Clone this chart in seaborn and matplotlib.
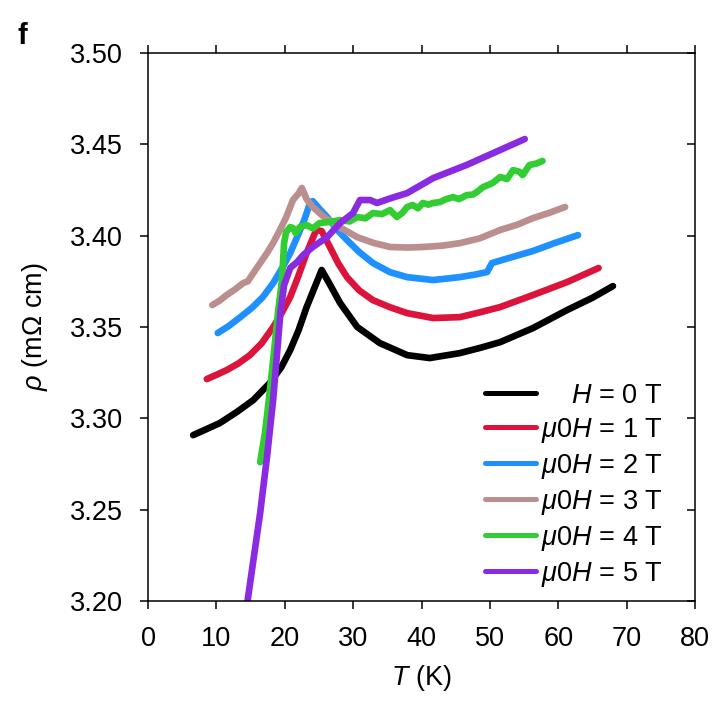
import matplotlib
matplotlib.use("Agg")
import matplotlib.pyplot as plt
import seaborn as sns
import pandas as pd
from matplotlib.lines import Line2D

# ---- data ----
T_0 = [6.6, 8.5, 10.5, 13.0, 15.4, 17.8, 19.5, 20.8, 22.0, 23.2, 24.4, 25.4, 26.5, 28.1,
       30.6, 33.9, 37.9, 41.2, 45.6, 48.5, 51.5, 56.3, 61.3, 65.0, 68.0]
R_0 = [3.2908, 3.2940, 3.2974, 3.3035, 3.3100, 3.3193, 3.3280, 3.3374, 3.3480, 3.3609,
       3.3720, 3.3812, 3.3740, 3.3631, 3.3500, 3.3412, 3.3346, 3.3330, 3.3357, 3.3385,
       3.3417, 3.3494, 3.3593, 3.3660, 3.3724]

T_1 = [8.6, 10.0, 11.5, 13.2, 14.9, 16.6, 18.3, 19.6, 20.8, 22.0, 23.2, 24.6, 25.4, 26.6,
       27.8, 29.1, 30.9, 32.9, 35.4, 37.9, 41.7, 45.6, 48.5, 51.5, 56.3, 61.3, 65.9]
R_1 = [3.3215, 3.3238, 3.3264, 3.3300, 3.3346, 3.3410, 3.3499, 3.3580, 3.3664, 3.3780,
       3.3905, 3.4031, 3.4025, 3.3938, 3.3850, 3.3773, 3.3700, 3.3647, 3.3608, 3.3576,
       3.3549, 3.3554, 3.3580, 3.3609, 3.3675, 3.3746, 3.3823]

T_2 = [10.2, 11.8, 13.5, 15.2, 16.8, 18.3, 19.7, 20.8, 21.8, 22.8, 23.7, 24.1, 25.0, 26.2,
       27.6, 29.1, 30.9, 32.9, 35.4, 37.9, 41.7, 45.6, 48.0, 49.6, 50.3, 53.0, 56.3, 59.5, 62.9]
R_2 = [3.3467, 3.3505, 3.3554, 3.3605, 3.3664, 3.3740, 3.3828, 3.3905, 3.3992, 3.4080,
       3.4179, 3.4189, 3.4150, 3.4102, 3.4035, 3.3976, 3.3910, 3.3850, 3.3800, 3.3773,
       3.3757, 3.3773, 3.3788, 3.3801, 3.3850, 3.3880, 3.3916, 3.3960, 3.4003]

T_3 = [9.4, 10.5, 11.5, 12.7, 13.9, 14.6, 15.4, 16.4, 17.4, 18.3, 19.3, 20.2, 21.2, 22.0,
       22.5, 23.2, 24.1, 25.5, 27.0, 28.8, 30.6, 33.0, 35.4, 38.0, 40.2, 43.0, 45.6, 48.5,
       51.5, 54.0, 56.3, 58.7, 61.0]
R_3 = [3.3620, 3.3645, 3.3675, 3.3705, 3.3740, 3.3750, 3.3795, 3.3850, 3.3905, 3.3960,
       3.4031, 3.4100, 3.4195, 3.4230, 3.4261, 3.4200, 3.4157, 3.4110, 3.4069, 3.4030,
       3.3992, 3.3960, 3.3938, 3.3935, 3.3938, 3.3945, 3.3959, 3.3985, 3.4031, 3.4060,
       3.4096, 3.4125, 3.4157]

T_4 = [16.4, 17.1, 17.5, 18.1, 18.6, 19.0, 19.6, 19.9, 20.2, 20.8, 21.2, 21.6, 22.2, 23.2,
       24.1, 25.1, 26.5, 28.1, 29.5, 30.6, 31.8, 32.9, 34.2, 35.4, 36.4, 37.2, 37.9, 38.7,
       39.5, 40.2, 41.0, 41.7, 42.7, 43.6, 44.6, 45.5, 46.6, 47.5, 48.1, 49.0, 50.4, 51.5,
       52.5, 53.4, 54.3, 54.8, 55.8, 56.8, 57.7]
R_4 = [3.2760, 3.2919, 3.3045, 3.3248, 3.3428, 3.3576, 3.3757, 3.3959, 3.4020, 3.4047,
       3.4042, 3.4014, 3.4047, 3.4058, 3.4040, 3.4069, 3.4075, 3.4085, 3.4078, 3.4102,
       3.4095, 3.4124, 3.4118, 3.4140, 3.4102, 3.4125, 3.4157, 3.4168, 3.4150, 3.4179,
       3.4170, 3.4179, 3.4184, 3.4200, 3.4211, 3.4200, 3.4222, 3.4225, 3.4239, 3.4266,
       3.4288, 3.4321, 3.4310, 3.4359, 3.4350, 3.4332, 3.4387, 3.4395, 3.4409]

T_5 = [14.5, 16.4, 17.4, 18.3, 19.0, 19.4, 19.9, 20.8, 21.8, 22.7, 24.1, 26.2, 28.1, 30.0,
       30.5, 31.0, 32.5, 33.5, 35.5, 37.9, 41.7, 46.6, 51.5, 55.1]
R_5 = [3.1985, 3.2481, 3.2788, 3.3100, 3.3412, 3.3593, 3.3729, 3.3823, 3.3855, 3.3894,
       3.3938, 3.3992, 3.4069, 3.4124, 3.4160, 3.4195, 3.4195, 3.4179, 3.4205, 3.4233,
       3.4315, 3.4387, 3.4469, 3.4529]

fields = ["0", "1", "2", "3", "4", "5"]
colors = ["#000000", "#DC143C", "#1E90FF", "#BC8F8F", "#32CD32", "#8A2BE2"]
labels = [r"$\mathit{H}$ = 0 T",
          r"$\mathit{\mu0H}$ = 1 T",
          r"$\mathit{\mu0H}$ = 2 T",
          r"$\mathit{\mu0H}$ = 3 T",
          r"$\mathit{\mu0H}$ = 4 T",
          r"$\mathit{\mu0H}$ = 5 T"]
x_ticks = [0, 10, 20, 30, 40, 50, 60, 70, 80]
y_ticks = [3.20, 3.25, 3.30, 3.35, 3.40, 3.45, 3.50]

series = [(T_0, R_0), (T_1, R_1), (T_2, R_2), (T_3, R_3), (T_4, R_4), (T_5, R_5)]
frames = []
for f, (t, r) in zip(fields, series):
    frames.append(pd.DataFrame({"T": t, "rho": r, "field": f}))
df = pd.concat(frames, ignore_index=True)

# ---- style ----
sns.set_style("ticks")
plt.rcParams["font.family"] = ["Liberation Sans", "DejaVu Sans"]
plt.rcParams["mathtext.fontset"] = "custom"
plt.rcParams["mathtext.it"] = "Liberation Sans:italic"
plt.rcParams["mathtext.rm"] = "Liberation Sans"
plt.rcParams["mathtext.bf"] = "Liberation Sans:bold"
for k in ["text.color", "axes.labelcolor", "xtick.color", "ytick.color", "axes.edgecolor"]:
    plt.rcParams[k] = "black"

FS = 19.5
fig = plt.figure(figsize=(7.15, 7.07), dpi=100)
ax = fig.add_axes([148 / 715, 1 - 601 / 707, (695 - 148) / 715, (601 - 53) / 707])

sns.lineplot(data=df, x="T", y="rho", hue="field", palette=dict(zip(fields, colors)),
             sort=False, estimator=None, lw=4.8, ax=ax, legend=False)

ax.set_xlim(0, 80)
ax.set_ylim(3.20, 3.50)
ax.set_xticks(x_ticks)
ax.set_xticklabels([str(v) for v in x_ticks])
ax.set_yticks(y_ticks)
ax.set_yticklabels([f"{v:.2f}" for v in y_ticks])

for s in ax.spines.values():
    s.set_linewidth(1.1)
    s.set_color("black")

ax.tick_params(axis="both", which="major", direction="out", length=6, width=1.1,
               labelsize=FS, pad=12, color="black", labelcolor="black")
ax.tick_params(axis="x", top=True, labeltop=False)
ax.tick_params(axis="y", right=True, labelright=False)
for t in ax.yaxis.get_major_ticks():
    t.tick2line.set_marker(matplotlib.lines.TICKLEFT)

ax.set_xlabel(r"$\mathit{T}$ (K)", fontsize=FS, labelpad=8, color="black")
ax.set_ylabel(r"$\mathit{\rho}$ (mΩ cm)", fontsize=FS, labelpad=14, color="black")

fig.text(18 / 715, 1 - 44 / 707, "f", fontsize=21, fontweight="bold", va="baseline",
         color="black")

# legend with right-aligned labels
handles = [Line2D([0], [0], color=c, lw=3.6) for c in colors]
leg = ax.legend(handles, labels, loc="lower right", bbox_to_anchor=(0.94, 0.022),
                frameon=False, fontsize=FS, handlelength=1.9, handletextpad=0.15,
                labelspacing=0.26, borderaxespad=0, borderpad=0)
for t in leg.get_texts():
    t.set_color("black")
fig.canvas.draw()
renderer = fig.canvas.get_renderer()
widths = [t.get_window_extent(renderer).width for t in leg.get_texts()]
wmax = max(widths)
for t, w in zip(leg.get_texts(), widths):
    x0, y0 = t.get_position()
    t.set_position((x0 + (wmax - w), y0))

fig.savefig("out.png", dpi=100)
